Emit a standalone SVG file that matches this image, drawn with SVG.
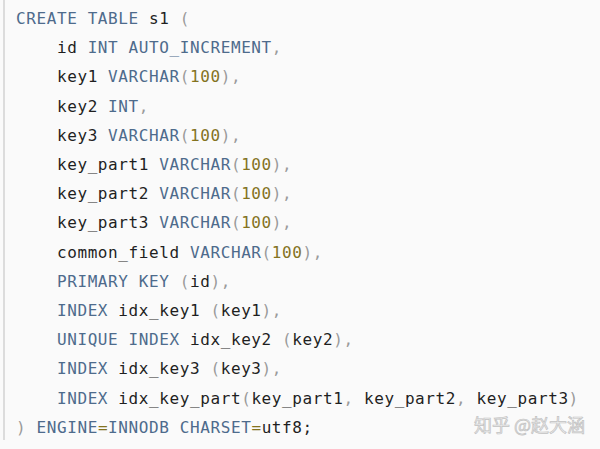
<svg xmlns="http://www.w3.org/2000/svg" width="600" height="449" viewBox="0 0 600 449">
<style>
text.code{font-family:"DejaVu Sans Mono","Liberation Mono",monospace;font-size:16px;letter-spacing:0.6px;fill:#1f1f1f;white-space:pre}
.k{fill:#4e6b8c}
.n{fill:#84731f}
.p{fill:#9a9a9a}
.wm{font-family:"Noto Sans CJK SC","Noto Sans",sans-serif;font-size:18px;fill:#ececec;stroke:#c2c2c2;stroke-width:0.7}
</style>
<rect x="0" y="0" width="600" height="449" fill="#fafafa"/>
<rect x="3" y="0" width="2" height="440" fill="#dcdcdc"/>
<g id="code" xml:space="preserve">
<text class="code" x="16" y="24"><tspan class="k">CREATE TABLE</tspan> s1 <tspan class="p">(</tspan></text>
<text class="code" x="16" y="53.2">    id <tspan class="k">INT AUTO_INCREMENT</tspan><tspan class="p">,</tspan></text>
<text class="code" x="16" y="82.4">    key1 <tspan class="k">VARCHAR</tspan><tspan class="p">(</tspan><tspan class="n">100</tspan><tspan class="p">),</tspan></text>
<text class="code" x="16" y="111.6">    key2 <tspan class="k">INT</tspan><tspan class="p">,</tspan></text>
<text class="code" x="16" y="140.8">    key3 <tspan class="k">VARCHAR</tspan><tspan class="p">(</tspan><tspan class="n">100</tspan><tspan class="p">),</tspan></text>
<text class="code" x="16" y="170">    key_part1 <tspan class="k">VARCHAR</tspan><tspan class="p">(</tspan><tspan class="n">100</tspan><tspan class="p">),</tspan></text>
<text class="code" x="16" y="199.2">    key_part2 <tspan class="k">VARCHAR</tspan><tspan class="p">(</tspan><tspan class="n">100</tspan><tspan class="p">),</tspan></text>
<text class="code" x="16" y="228.4">    key_part3 <tspan class="k">VARCHAR</tspan><tspan class="p">(</tspan><tspan class="n">100</tspan><tspan class="p">),</tspan></text>
<text class="code" x="16" y="257.6">    common_field <tspan class="k">VARCHAR</tspan><tspan class="p">(</tspan><tspan class="n">100</tspan><tspan class="p">),</tspan></text>
<text class="code" x="16" y="286.8">    <tspan class="k">PRIMARY KEY</tspan> <tspan class="p">(</tspan>id<tspan class="p">),</tspan></text>
<text class="code" x="16" y="316">    <tspan class="k">INDEX</tspan> idx_key1 <tspan class="p">(</tspan>key1<tspan class="p">),</tspan></text>
<text class="code" x="16" y="345.2">    <tspan class="k">UNIQUE INDEX</tspan> idx_key2 <tspan class="p">(</tspan>key2<tspan class="p">),</tspan></text>
<text class="code" x="16" y="374.4">    <tspan class="k">INDEX</tspan> idx_key3 <tspan class="p">(</tspan>key3<tspan class="p">),</tspan></text>
<text class="code" x="16" y="403.6">    <tspan class="k">INDEX</tspan> idx_key_part<tspan class="p">(</tspan>key_part1<tspan class="p">,</tspan> key_part2<tspan class="p">,</tspan> key_part3<tspan class="p">)</tspan></text>
<text class="code" x="16" y="432.8"><tspan class="p">)</tspan> <tspan class="k">ENGINE</tspan><tspan class="n">=</tspan><tspan class="k">INNODB</tspan> <tspan class="k">CHARSET</tspan><tspan class="n">=</tspan>utf8;</text>
</g>
<text class="wm" x="585" y="432" text-anchor="end">知乎 @赵大涵</text>
</svg>
